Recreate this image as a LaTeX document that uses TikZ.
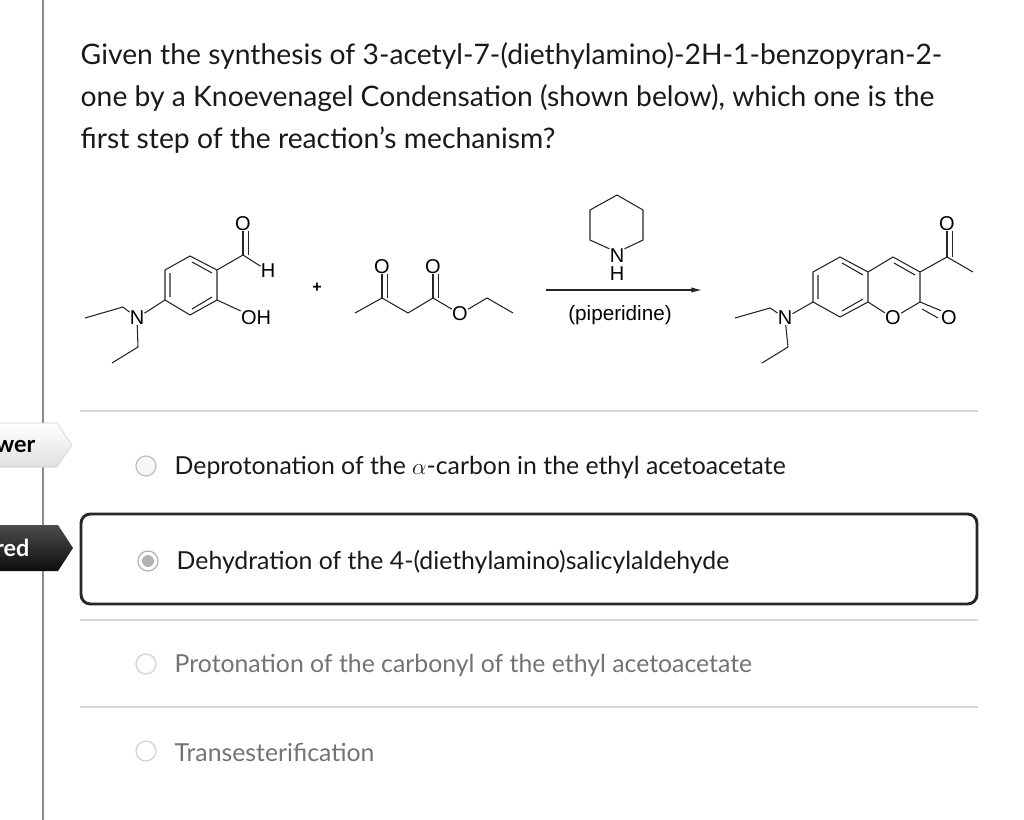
\documentclass[tikz,border=0pt]{standalone}
\usepackage{fontspec}
\setmainfont{Lato}
\newfontfamily\chemf{Liberation Sans}
\usetikzlibrary{arrows.meta}
\begin{document}
\begin{tikzpicture}[x=0.75pt,y=-0.75pt,
  bond/.style={line width=0.8pt,black!85},
  atom/.style={font=\chemf\fontsize{15}{15}\selectfont,inner sep=0pt,fill=white},
  q/.style={font=\fontsize{21.2}{31.5}\selectfont,anchor=north west,align=left,text=black!90},
  opt/.style={font=\fontsize{18.6}{20}\selectfont,anchor=west},
  radio/.style={circle,draw=black!25,line width=0.9pt,minimum size=15pt,inner sep=0pt,fill=black!3},
  sep/.style={draw=black!15,line width=0.9pt}]
\useasboundingbox (0,0) rectangle (1024,820);
\draw[black!45,line width=1pt] (43,0) coordinate (vt) -- (43,820) coordinate (vb);
% question
\node[q] (qtext) at (76,38) {Given the synthesis of 3-acetyl-7-(diethylamino)-2H-1-benzopyran-2-\\one by a Knoevenagel Condensation (shown below), which one is the\\first step of the reaction’s mechanism?};
% aldehyde
\coordinate (a1) at (165,270); \coordinate (a2) at (190,256); \coordinate (a3) at (217,270);
\coordinate (a4) at (217,300); \coordinate (a5) at (190,315); \coordinate (a6) at (165,300);
\draw[bond] (a1)--(a2)--(a3)--(a4)--(a5)--(a6)--cycle;
\draw[bond] (170,273)--(170,297) (192,262)--(212,273) (192,309)--(212,297);
\node[atom] (ao) at (243,224) {O};
\node[atom] (ah) at (268,271) {H};
\node[atom] (aoh) at (256,318) {OH};
\node[atom] (an) at (137,318) {N};
\coordinate (ac) at (243,255);
\draw[bond] (a3)--(ac)--(ah);
\draw[bond] (ac)--(ao) ([xshift=4]ac)--([xshift=4]ao.south);
\draw[bond] (a4)--(aoh);
\draw[bond] (a6)--(an);
\draw[bond] (an)--(123,307)--(85,318);
\draw[bond] (an)--(138,347)--(112,363);
\node[font=\chemf\bfseries\fontsize{12}{12}\selectfont] (plus) at (317,288) {+};
% ethyl acetoacetate
\node[atom] (eo1) at (382,267) {O};
\node[atom] (eo2) at (433,267) {O};
\node[atom] (eo3) at (460,314) {O};
\coordinate (e1) at (355,313); \coordinate (e2) at (382,298); \coordinate (e3) at (408,313);
\coordinate (e4) at (433,298); \coordinate (e5) at (487,298); \coordinate (e6) at (513,313);
\draw[bond] (e1)--(e2)--(e3)--(e4)--(eo3)--(e5)--(e6);
\draw[bond] (e2)--(eo1) ([xshift=4]e2)--([xshift=4]eo1.south);
\draw[bond] (e4)--(eo2) ([xshift=4]e4)--([xshift=4]eo2.south);
% arrow and piperidine
\coordinate (ar1) at (546,290); \coordinate (ar2) at (702,290);
\draw[bond,-{Latex[length=8pt,width=4pt]}] (ar1)--(ar2);
\node[atom,font=\chemf\fontsize{15.5}{16}\selectfont] (pip) at (620,315) {(piperidine)};
\node[atom] (pn) at (617,256) {N};
\node[atom] (ph) at (617,274) {H};
\draw[bond] (pn.north west)--(590,240)--(590,210)--(617,195)--(643,210)--(643,240)--(pn.north east);
% product
\coordinate (p1) at (813,272); \coordinate (p2) at (840,257); \coordinate (p3) at (868,272);
\coordinate (p4) at (868,302); \coordinate (p5) at (840,317); \coordinate (p6) at (813,302);
\coordinate (c4) at (893,257); \coordinate (c3) at (920,272); \coordinate (c2) at (920,302);
\node[atom] (po1) at (893,318) {O};
\node[atom] (po2) at (949,318) {O};
\node[atom] (po3) at (947,224) {O};
\node[atom] (pn2) at (785,318) {N};
\coordinate (ca) at (947,257);
\draw[bond] (p1)--(p2)--(p3)--(p4)--(p5)--(p6)--cycle;
\draw[bond] (818,275)--(818,299) (842,263)--(863,275) (842,311)--(863,299);
\draw[bond] (p3)--(c4)--(c3)--(c2)--(po1)--(p4);
\draw[bond] (894,263)--(915,275);
\draw[bond] (c2)--(po2.north west);
\draw[bond] (922,309)--(938,318);
\draw[bond] (c3)--(ca)--(973,272);
\draw[bond] (ca)--(po3) ([xshift=4]ca)--([xshift=4]po3.south);
\draw[bond] (p6)--(pn2);
\draw[bond] (pn2)--(770,308)--(735,318);
\draw[bond] (pn2)--(788,347)--(762,363);
% separators
\draw[sep] (80,411) coordinate (s1a) -- (978,411) coordinate (s1b);
\draw[sep] (80,620) coordinate (s2a) -- (978,620) coordinate (s2b);
\draw[sep] (80,707) coordinate (s3a) -- (978,707) coordinate (s3b);
% selected box
\draw[line width=2.2pt,black!85,rounded corners=7pt] (81,514) rectangle (977,604);
% options
\node[radio] (r1) at (146,466) {};
\node[opt,text=black!90] (o1) at (170,467) {Deprotonation of the $\alpha$-carbon in the ethyl acetoacetate};
\node[radio,draw=black!30,fill=white] (r2) at (148,561) {};
\fill[black!30] (r2) circle (4.5pt);
\node[opt,text=black!90] (o2) at (172,562) {Dehydration of the 4-(diethylamino)salicylaldehyde};
\node[radio,draw=black!18,fill=white] (r3) at (146,664) {};
\node[opt,text=black!55] (o3) at (170,665) {Protonation of the carbonyl of the ethyl acetoacetate};
\node[radio,draw=black!18,fill=white] (r4) at (146,751) {};
\node[opt,text=black!55] (o4) at (170,752) {Transesterification};
% tabs
\shade[top color=white,bottom color=black!12,draw=black!20] (-2,423)--(57,423)--(72,445)--(57,467)--(-2,467)--cycle;
\node[font=\bfseries\fontsize{17.5}{17.5}\selectfont,anchor=east] (t1) at (40,446) {wer};
\shade[top color=black!70,bottom color=black!95] (-2,525)--(58,525)--(73,548)--(58,571)--(-2,571)--cycle;
\node[font=\bfseries\fontsize{17.5}{17.5}\selectfont,anchor=east,text=white] (t2) at (34,548) {red};
\end{tikzpicture}
\end{document}
